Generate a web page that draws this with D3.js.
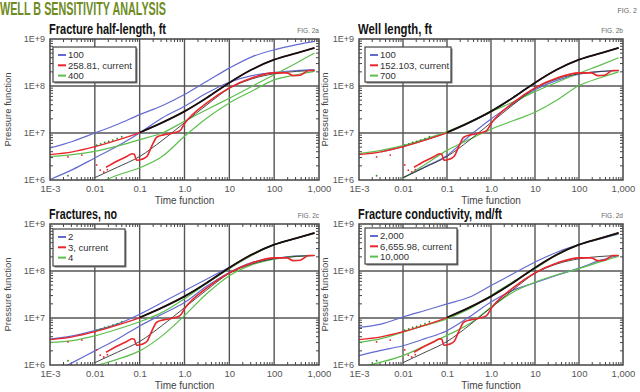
<!DOCTYPE html>
<html lang="en">
<head>
<meta charset="UTF-8">
<title>Well B sensitivity analysis</title>
<script src="https://cdn.jsdelivr.net/npm/d3@7.9.0/dist/d3.min.js"></script>
<style>
    body { margin: 0; background: #fff; }
    svg { display: block; font-family: "Liberation Sans", Arial, sans-serif; }
</style>
</head>
<body>
<svg id="chart" width="640" height="392"></svg>
<script>
// time grid, log10 of time function
const tGrid = [-3, -2.5, -2, -1.5, -1, -0.5, 0, 0.5, 1, 1.5, 2, 2.5, 2.9];

const xTicks = [1e-3, 0.01, 0.1, 1, 10, 100, 1000];
const xTickLabels = ['1E-3', '0.01', '0.1', '1.0', '10', '100', '1,000'];
const yTicks = [1e6, 1e7, 1e8, 1e9];
const yTickLabels = ['1E+6', '1E+7', '1E+8', '1E+9'];

// shared "current" model and measured data (log10 of pressure function)
const redUpper   = [6.54, 6.60, 6.71, 6.85, 7.01, 7.22, 7.46, 7.75, 8.07, 8.35, 8.56, 8.70, 8.81];
const blackUpper = [null, null, null, null, 7.01, 7.22, 7.46, 7.75, 8.07, 8.35, 8.56, 8.70, 8.81];
const blackLower = [null, null, 6.05, 6.27, 6.50, 6.84, 7.22, 7.60, 7.95, 8.15, 8.26, 8.31, 8.33];
// current derivative, [log t, log p]
const redLower = [[-1.75, 6.27], [-1.51, 6.40], [-1.29, 6.50], [-1.17, 6.56], [-1.12, 6.55], [-1.07, 6.42],
    [-0.95, 6.44], [-0.84, 6.50], [-0.73, 6.72], [-0.62, 6.91], [-0.47, 6.96], [-0.25, 7.0], [-0.10, 7.05],
    [0.01, 7.21], [0.5, 7.64], [1.0, 7.96], [1.5, 8.17], [2.0, 8.28], [2.28, 8.28], [2.43, 8.22],
    [2.58, 8.23], [2.77, 8.33], [2.9, 8.33]];
const redDots = [[-2.6, 6.49], [-2.29, 6.53], [-2.0, 6.70], [-1.96, 6.32], [-1.88, 6.21], [-1.8, 6.17], [-1.72, 6.22]];
const greenDots = [[-2.6, 6.09], [-1.96, 6.74], [-1.87, 6.77], [-1.78, 6.80], [-1.69, 6.82], [-1.6, 6.85], [-1.5, 6.88], [-1.4, 6.92]];

// Fig 2a: fracture half-length
const aBlueUpper  = [6.68, 6.82, 7.00, 7.18, 7.39, 7.58, 7.82, 8.10, 8.38, 8.62, 8.77, 8.88, 8.95];
const aBlueLower  = [6.01, 6.22, 6.47, 6.72, 7.00, 7.32, 7.57, 7.85, 8.08, 8.22, 8.29, 8.33, 8.35];
const aGreenUpper = [6.50, 6.54, 6.61, 6.72, 6.86, 7.00, 7.25, 7.50, 7.74, 7.99, 8.24, 8.49, 8.70];
const aGreenLower = [null, null, 5.90, 6.10, 6.26, 6.50, 6.93, 7.32, 7.64, 7.89, 8.13, 8.24, 8.31];
// Fig 2b: well length
const bBlueUpper  = [null, 6.60, 6.71, 6.85, 7.01, 7.22, 7.46, 7.75, 8.07, 8.35, 8.56, 8.70, 8.81];
const bBlueLower  = [null, null, 6.05, 6.28, 6.52, 6.93, 7.30, 7.62, 7.92, 8.12, 8.25, 8.31, 8.33];
const bGreenUpper = [6.56, 6.63, 6.73, 6.87, 7.03, 7.23, 7.45, 7.66, 7.88, 8.08, 8.27, 8.45, 8.60];
const bGreenLower = [null, null, 6.03, 6.33, 6.63, 6.86, 7.08, 7.26, 7.44, 7.70, 8.01, 8.18, 8.30];
// Fig 2c: number of fractures
const cBlueUpper  = [6.55, 6.62, 6.73, 6.87, 7.08, 7.33, 7.58, 7.83, 8.08, 8.34, 8.56, 8.70, 8.80];
const cBlueLower  = [5.80, 6.05, 6.30, 6.55, 6.83, 7.08, 7.33, 7.68, 7.97, 8.18, 8.26, 8.32, 8.33];
const cGreenUpper = [6.48, 6.52, 6.62, 6.76, 6.92, 7.12, 7.41, 7.74, 8.05, 8.33, 8.56, 8.70, 8.80];
const cGreenLower = [null, null, 5.98, 6.12, 6.30, 6.62, 7.05, 7.52, 7.90, 8.13, 8.25, 8.31, 8.33];
// Fig 2d: fracture conductivity
const dBlueUpper  = [6.80, 6.87, 7.02, 7.16, 7.30, 7.44, 7.69, 7.94, 8.19, 8.40, 8.56, 8.69, 8.79];
const dBlueLower  = [6.20, 6.31, 6.41, 6.56, 6.73, 7.02, 7.34, 7.59, 7.75, 7.91, 8.06, 8.23, 8.33];
const dGreenUpper = [6.48, 6.56, 6.70, 6.84, 6.98, 7.19, 7.48, 7.77, 8.05, 8.34, 8.56, 8.70, 8.80];
const dGreenLower = [5.95, 6.06, 6.20, 6.41, 6.63, 6.87, 7.23, 7.55, 7.76, 7.92, 8.05, 8.20, 8.31];

const panels = [
    { title: 'Fracture half-length, ft', titleW: 117, fig: 'FIG. 2a', names: ['100', '258.81, current', '400'],
      box: [50, 319, 39, 180], legend: [53, 47, 83, 35], yTitleX: 11,
      blue: [aBlueUpper, aBlueLower], green: [aGreenUpper, aGreenLower] },
    { title: 'Well length, ft', titleW: 74, fig: 'FIG. 2b', names: ['100', '152.103, current', '700'],
      box: [359, 623, 39, 180], legend: [365, 47, 86, 35], yTitleX: 328,
      blue: [bBlueUpper, bBlueLower], green: [bGreenUpper, bGreenLower] },
    { title: 'Fractures, no', titleW: 68, fig: 'FIG. 2c', names: ['2', '3, current', '4'],
      box: [50, 319, 224, 365], legend: [53, 229, 72, 37], yTitleX: 11,
      blue: [cBlueUpper, cBlueLower], green: [cGreenUpper, cGreenLower] },
    { title: 'Fracture conductivity, md/ft', titleW: 144, fig: 'FIG. 2d', names: ['2,000', '6,655.98, current', '10,000'],
      box: [359, 623, 224, 365], legend: [365, 228, 92, 36], yTitleX: 328,
      blue: [dBlueUpper, dBlueLower], green: [dGreenUpper, dGreenLower] }
];

const BLUE = '#646bd0', RED = '#e8262b', GREEN = '#5cbf4c', GRID = '#555';
const NARROW = '"Liberation Sans Narrow", "Liberation Sans", sans-serif';

const svg = d3.select('#chart');

svg.append('text')
    .attr('x', 0).attr('y', 15)
    .attr('font-family', NARROW)
    .attr('font-weight', 'bold').attr('font-size', 18)
    .attr('fill', '#6f8c1f')
    .attr('textLength', 166).attr('lengthAdjust', 'spacingAndGlyphs')
    .text('WELL B SENSITIVITY ANALYSIS');

svg.append('text')
    .attr('x', 637).attr('y', 13).attr('text-anchor', 'end')
    .attr('font-size', 7).attr('fill', '#666')
    .text('FIG. 2');

const toPts = vals => tGrid.map((t, i) => [t, vals[i]]).filter(d => d[1] != null);

panels.forEach((p, pi) => {
    const [x0, x1, y0, y1] = p.box;
    const x = d3.scaleLog().domain([1e-3, 1e3]).range([x0, x1]);
    const y = d3.scaleLog().domain([1e6, 1e9]).range([y1, y0]);
    const g = svg.append('g');

    const line = d3.line()
        .x(d => x(Math.pow(10, d[0])))
        .y(d => y(Math.pow(10, d[1])))
        .curve(d3.curveMonotoneX);

    // titles
    g.append('text')
        .attr('x', x0 - 1).attr('y', y0 - 5)
        .attr('font-family', NARROW)
        .attr('font-weight', 'bold').attr('font-size', 14).attr('fill', '#111')
        .attr('textLength', p.titleW).attr('lengthAdjust', 'spacingAndGlyphs')
        .text(p.title);
    g.append('text')
        .attr('x', x1).attr('y', y0 - 6).attr('text-anchor', 'end')
        .attr('font-size', 6.5).attr('fill', '#666')
        .text(p.fig);

    // axis labels
    const xAxis = d3.axisBottom(x).tickValues(xTicks)
        .tickFormat((d, i) => xTickLabels[i]).tickSize(0).tickPadding(5);
    const xa = g.append('g').attr('transform', `translate(0,${y1})`).call(xAxis);
    xa.select('.domain').remove();
    xa.selectAll('text').attr('font-size', 9.5).attr('fill', '#555')
        .attr('font-family', '"Liberation Sans", sans-serif');

    const yAxis = d3.axisLeft(y).tickValues(yTicks)
        .tickFormat((d, i) => yTickLabels[i]).tickSize(0).tickPadding(5);
    const ya = g.append('g').attr('transform', `translate(${x0},0)`).call(yAxis);
    ya.select('.domain').remove();
    ya.selectAll('text').attr('font-size', 9).attr('fill', '#555')
        .attr('font-family', NARROW);

    g.append('text')
        .attr('x', (x0 + x1) / 2).attr('y', y1 + 24).attr('text-anchor', 'middle')
        .attr('font-size', 10).attr('fill', '#444')
        .text('Time function');
    g.append('text')
        .attr('transform', `translate(${p.yTitleX},${(y0 + y1) / 2}) rotate(-90)`)
        .attr('text-anchor', 'middle')
        .attr('font-size', 9.5).attr('fill', '#444')
        .text('Pressure function');

    // grid
    g.selectAll('.vgrid').data(xTicks.slice(1, -1)).enter().append('line')
        .attr('x1', d => x(d)).attr('x2', d => x(d))
        .attr('y1', y0).attr('y2', y1)
        .attr('stroke', GRID).attr('stroke-width', 1.4);
    g.selectAll('.hgrid').data(yTicks.slice(1, -1)).enter().append('line')
        .attr('y1', d => y(d)).attr('y2', d => y(d))
        .attr('x1', x0).attr('x2', x1)
        .attr('stroke', GRID).attr('stroke-width', 1.4);

    // minor ticks
    const xMinor = [], yMinor = [];
    for (let e = -3; e < 3; e++) for (let k = 2; k <= 9; k++) xMinor.push(k * Math.pow(10, e));
    for (let e = 6; e < 9; e++) for (let k = 2; k <= 9; k++) yMinor.push(k * Math.pow(10, e));
    xMinor.forEach(v => {
        g.append('line').attr('x1', x(v)).attr('x2', x(v)).attr('y1', y0).attr('y2', y0 + 3)
            .attr('stroke', '#444').attr('stroke-width', 1);
        g.append('line').attr('x1', x(v)).attr('x2', x(v)).attr('y1', y1).attr('y2', y1 - 3)
            .attr('stroke', '#444').attr('stroke-width', 1);
    });
    yMinor.forEach(v => {
        g.append('line').attr('y1', y(v)).attr('y2', y(v)).attr('x1', x0).attr('x2', x0 + 3)
            .attr('stroke', '#444').attr('stroke-width', 1);
        g.append('line').attr('y1', y(v)).attr('y2', y(v)).attr('x1', x1).attr('x2', x1 - 3)
            .attr('stroke', '#444').attr('stroke-width', 1);
    });

    // curves
    const clipId = 'clip' + pi;
    g.append('clipPath').attr('id', clipId).append('rect')
        .attr('x', x0).attr('y', y0).attr('width', x1 - x0).attr('height', y1 - y0);
    const c = g.append('g').attr('clip-path', `url(#${clipId})`);

    const draw = (data, color, w) => c.append('path').datum(data)
        .attr('d', line).attr('fill', 'none').attr('stroke', color)
        .attr('stroke-width', w).attr('stroke-linejoin', 'round');

    draw(toPts(p.blue[0]), BLUE, 1.2);
    draw(toPts(p.blue[1]), BLUE, 1.2);
    draw(toPts(p.green[0]), GREEN, 1.2);
    draw(toPts(p.green[1]), GREEN, 1.2);
    draw(toPts(blackLower), '#333', 0.9);
    draw(toPts(redUpper), RED, 1.3);
    draw(redLower, RED, 1.6);
    draw(toPts(blackUpper), '#111', 1.8);

    c.selectAll('.rdot').data(redDots).enter().append('circle')
        .attr('cx', d => x(Math.pow(10, d[0]))).attr('cy', d => y(Math.pow(10, d[1])))
        .attr('r', 0.9).attr('fill', RED);
    c.selectAll('.gdot').data(greenDots).enter().append('circle')
        .attr('cx', d => x(Math.pow(10, d[0]))).attr('cy', d => y(Math.pow(10, d[1])))
        .attr('r', 0.9).attr('fill', '#2e8f2a');

    // frame
    g.append('rect').attr('x', x0).attr('y', y0)
        .attr('width', x1 - x0).attr('height', y1 - y0)
        .attr('fill', 'none').attr('stroke', '#444').attr('stroke-width', 1.5);

    // legend
    const [lx, ly, lw, lh] = p.legend;
    g.append('rect').attr('x', lx + 1.5).attr('y', ly + 1.5).attr('width', lw).attr('height', lh)
        .attr('fill', '#777');
    g.append('rect').attr('x', lx).attr('y', ly).attr('width', lw).attr('height', lh)
        .attr('fill', '#fff').attr('stroke', '#444').attr('stroke-width', 1.2);
    [BLUE, RED, GREEN].forEach((col, i) => {
        const cy = ly + 8 + i * 10.3;
        g.append('line').attr('x1', lx + 5).attr('x2', lx + 13).attr('y1', cy).attr('y2', cy)
            .attr('stroke', col).attr('stroke-width', 2);
        g.append('text').attr('x', lx + 15).attr('y', cy + 3.3)
            .attr('font-size', 9.5).attr('fill', '#333')
            .text(p.names[i]);
    });
});
</script>
</body>
</html>
